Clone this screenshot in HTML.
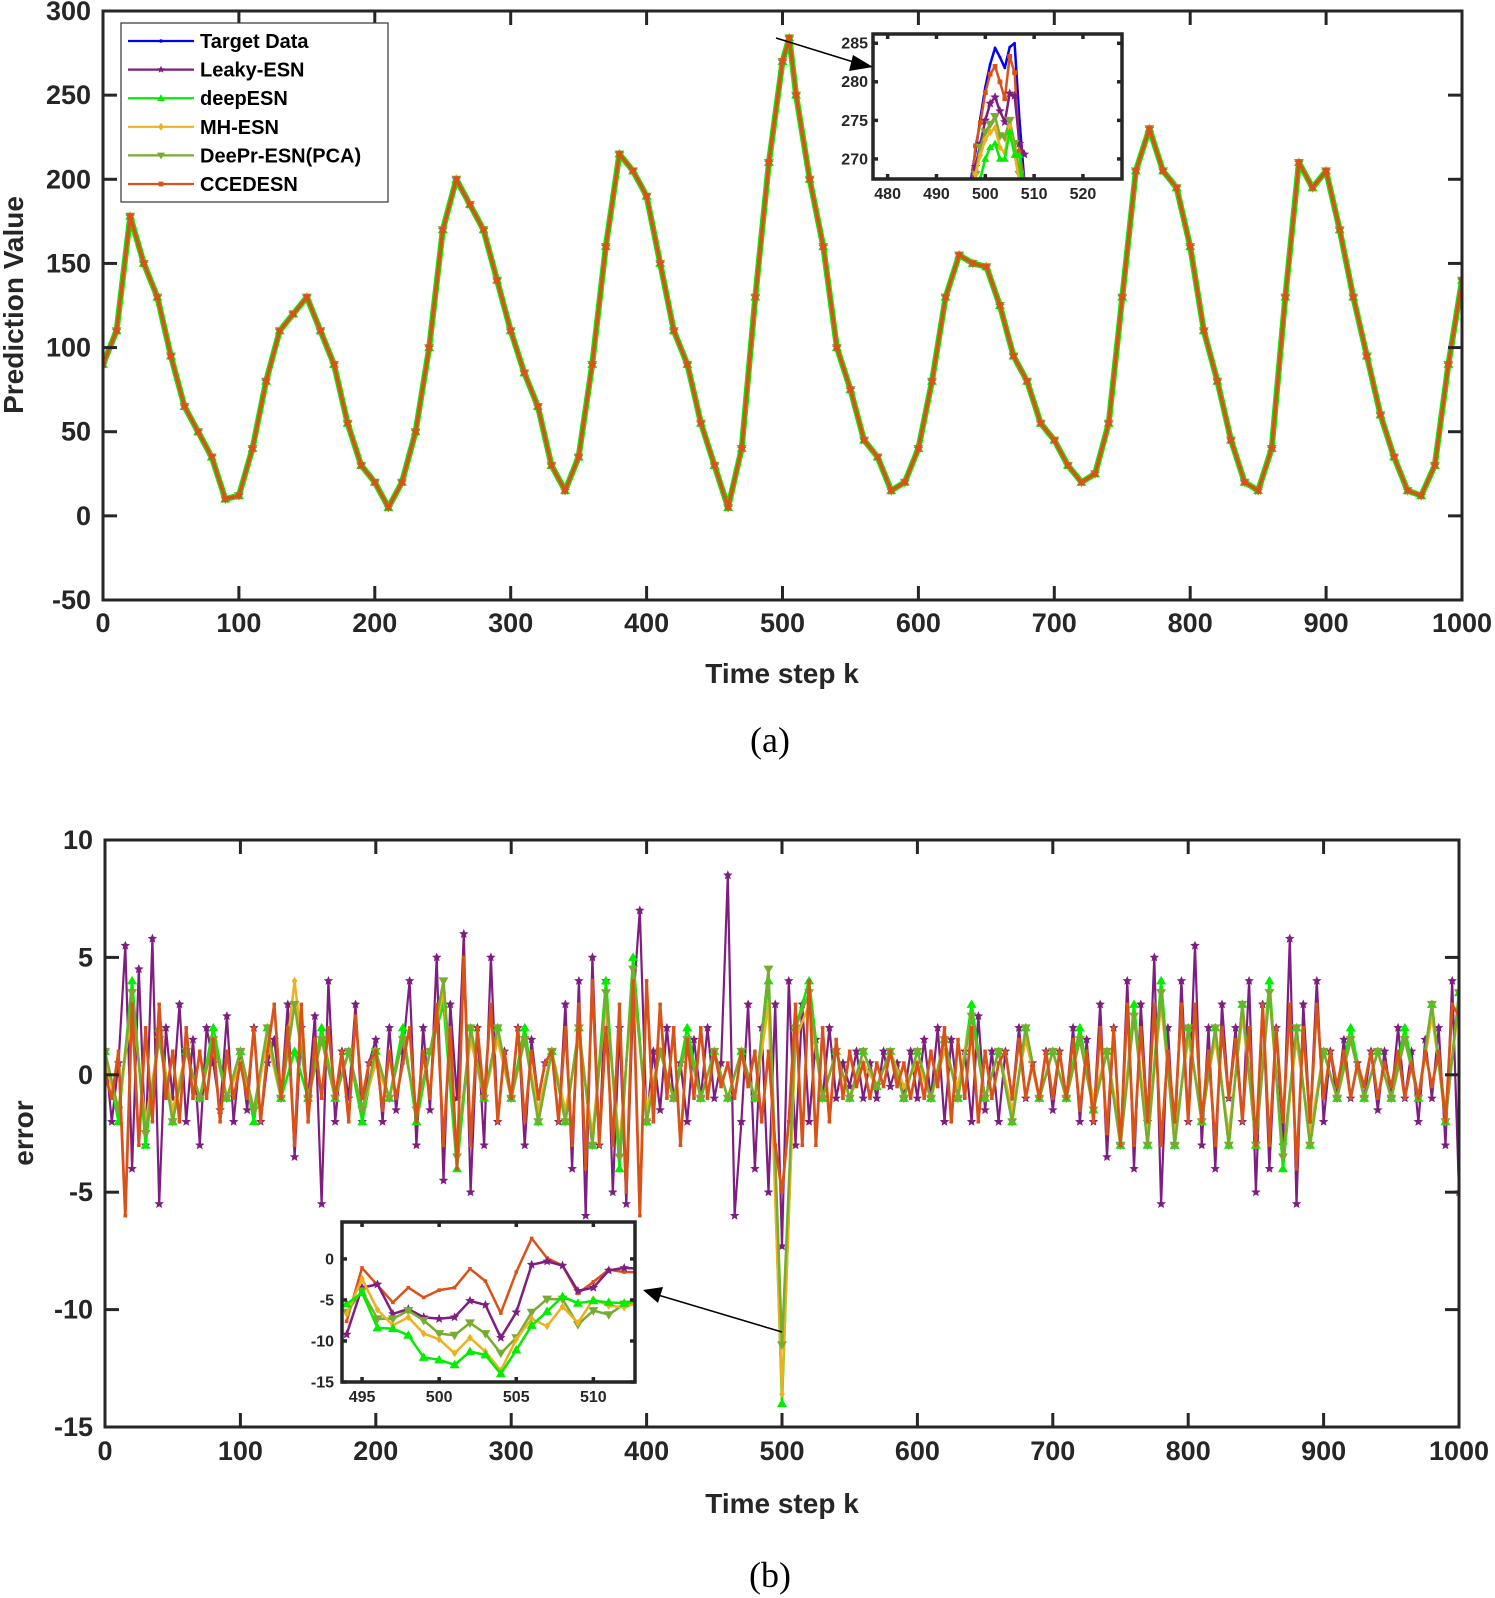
<!DOCTYPE html>
<html><head><meta charset="utf-8"><style>
body{margin:0;background:#fff;}
svg{display:block;font-family:"Liberation Sans",Arial,sans-serif;}
.tk{font-size:27px;font-weight:bold;fill:#262626;}
.lb{font-size:28px;font-weight:bold;fill:#262626;}
.it{font-size:16px;font-weight:bold;fill:#262626;}
.lg{font-size:20px;font-weight:bold;fill:#000;}
.cap{font-size:36px;font-family:"Liberation Serif",serif;fill:#000;}
</style></head><body>
<svg id="svg" width="1495" height="1598" viewBox="0 0 1495 1598" xmlns="http://www.w3.org/2000/svg">
<defs>
<clipPath id="c1"><rect x="103" y="11" width="1359" height="589"/></clipPath>
<clipPath id="c2"><rect x="105" y="840" width="1354" height="587"/></clipPath>
<clipPath id="c3"><rect x="873" y="34" width="249" height="145"/></clipPath>
<clipPath id="c4"><rect x="342" y="1222" width="293" height="160"/></clipPath>
</defs>
<g id="root"></g>
</svg>
<script>
// ---------- data ----------
const kTop = [0,10,20,30,40,50,60,70,80,90,100,110,120,130,140,150,160,170,180,190,200,210,220,230,240,250,260,270,280,290,300,310,320,330,340,350,360,370,380,390,400,410,420,430,440,450,460,470,480,490,500,505,510,520,530,540,550,560,570,580,590,600,610,620,630,640,650,660,670,680,690,700,710,720,730,740,750,760,770,780,790,800,810,820,830,840,850,860,870,880,890,900,910,920,930,940,950,960,970,980,990,1000];
const target = [90,110,178,150,130,95,65,50,35,10,12,40,80,110,120,130,110,90,55,30,20,5,20,50,100,170,200,185,170,140,110,85,65,30,15,35,90,160,215,205,190,150,110,90,55,30,5,40,130,210,270,284,250,200,160,100,75,45,35,15,20,40,80,130,155,150,148,125,95,80,55,45,30,20,25,55,130,205,230,205,195,160,110,80,45,20,15,40,130,210,195,205,170,130,95,60,35,15,12,30,90,140];
const yTopTicks = [300,250,200,150,100,50,0,-50];
const xTicks = [0,100,200,300,400,500,600,700,800,900,1000];

const kIn1 = [497,498,499,500,501,502,503,504,505,506,507,508];
const in1Target = [267,271,275.3,279.3,282.3,284.4,283.2,281.8,284.5,285,275,267];
const in1Ccedesn = [265,271.7,274.7,278.6,281,282,280,277.8,283.3,281.2,271,267];
const in1Leaky = [265,269,272,275,277.2,278,276.2,274.8,278.5,278.2,272,270.6];
const in1Pca = [264,268,271.5,273.5,274.5,275.5,273,272.8,275,272,268,264];
const in1Mh = [264,268,270.5,272.5,273.5,274,271.5,270.8,274.2,270.5,267,264];
const in1Deep = [262,264,267.5,270,271.5,272,270,270,273.5,270.5,270.5,264];
const in1XTicks = [480,490,500,510,520];
const in1YTicks = [285,280,275,270];

const kErr5 = [];
for (let k = 0; k <= 1000; k += 5) kErr5.push(k);
const kErr10 = [];
for (let k = 0; k <= 1000; k += 10) kErr10.push(k);
const errLeaky = [1,-2,0.5,5.5,-4,4.5,-3,5.8,-5.5,2,-1,3,-2,1.5,-3,2,0.5,-1.5,2.5,-2,
1,-1.5,2,-2,0.5,1.5,-1,3,-3.5,2,-1,2.5,-5.5,4,-2,1,-1,3,-2,0.5,
1.5,-2,2,-1.5,1,4,-3,2,-1.5,5,-4.5,3,-1,6,-5,2,-3,5,-2,1,
-1,2,-3,1.5,-1,0.5,1,-2,3,-4,4,-6,5,-3,4,-5,2,-5.5,3,7,
-2,1,-1.5,2,-1,0.5,-2,1.5,-1,2,-1,0.5,8.5,-6,-2,3,-4,2,-5,3,
-7.3,4,-3,3,-2,1.5,-1,2,-1,0.5,-0.5,1,-1,0.5,-1,1,-0.5,0.5,-1,1,
-1,1.5,-1,2,-2,1.5,-1,1,-2,2.5,-1.5,1,-2,1,-1,2,-1,0.5,-1,1,
-1.5,1,-1,2,-2,1.5,-2,3,-3.5,2,-3,4,-4,3,-2,5,-5.5,2,-3,4,
-2,5.5,-3,2,-4,3,-1,2,-2,4,-5,3,-4,2,-3,5.8,-5.5,3,-2,4,
-2,1,-1,1.5,-1,0.5,-1,1,-1.5,1,-1,2,-1,1,-2,1.5,-1,2,-3,4,-5];
const errCcedesn = [0,-1,1,-6,3,-3,2,-2,3,-1,1,-2,2,-1,1,-1,1.5,-2,1,-1,
0.5,-1,2,-2,1,3,-1,2,-3,3,-2,1.5,-1,2,-1,1,-2,2.5,-1,0.5,
1,-1.5,1,-1,0.5,2,-2,1,-1,3,-3,2,-4,5,-3,2,-1,3,-2,1,
-1,2,-2,1,-1,0.5,1,-2,2,-3,3,-4,4,-3,2,-3,3,-5,4,-6,
4,-2,3,-1,2,-3,1.5,-1,2,-1,1,-0.5,0.5,-1,1,-0.5,1,-2,1,-3,
-5,-2,3,-3,4,-3,2,-2,1.5,-1,1,-0.5,0.5,-1,0.5,-0.5,1,-0.5,0.5,-1,
0.5,-1,1,-0.5,2,-2,1.5,-1,2,-2,1,-1,0.5,1,-1,1.5,-1,0.5,-1,1,
-1,1,-1,1.5,-1.5,1,-2,2,-2.5,2,-3,3,-3,2,-2,3,-3,1,-2,3,
-2,3,-2,1,-3,2,-1,1.5,-2,2,-3,3,-3,2,-2,3,-4,2,-2,3,
-1,1,-0.5,1,-1,0.5,-0.5,1,-1,0.5,-0.5,1,-1,0.5,-1,1,-0.5,1,-2,3,2.5];
const errDeep = [1,-2,4,-3,2,-2,1,-1,2,-1,
1,-2,2,-1,1,-1,2,-1,1,-2,
1,-1,2,-2,1,3,-4,2,-1,2,
-1,2,-2,1,-2,2,-3,4,-4,5,
-2,1,-1,2,-1,1,-1,1,-1,4,
-14,2,4,-1,1,-1,1,-0.5,1,-1,
1,-1,1.5,-1,3,-1,1,-2,2,-1,
1,-1,2,-1.5,1,-3,3,-3,4,-3,
2,-2,2,-3,3,-3,4,-4,2,-3,
1,-1,2,-1,1,-1,2,-1,3,-2,3.5];
const errMh = [0.5,-1.5,3,-2,1.5,-1.5,1,-1,1.5,-1,
0.5,-1.5,1.5,-1,4,-1,1.5,-1,1,-1.5,
0.5,-1,1.5,-1.5,1,3.5,-3,1.5,-1,1.5,
-1,1.5,-1.5,1,-1.5,1.5,-2.5,3,-3,4,
-1.5,1,-1,1.5,-1,1,-1,1,-1,3,
-13.6,1.5,3,-1,1,-1,0.5,-0.5,1,-0.5,
0.5,-1,1,-0.5,2.5,-1,1,-1.5,1.5,-1,
1,-1,1.5,-1,1,-2.5,2.5,-2.5,3,-2.5,
1.5,-1.5,1.5,-2.5,2.5,-2.5,3.5,-3.5,1.5,-2.5,
1,-1,1.5,-1,1,-1,1.5,-1,2.5,-1.5,3];
const errPca = [1,-1.5,3.5,-2.5,1.5,-2,1,-1,1.5,-1,
1,-1.5,2,-1,3,-1,1.5,-1,1,-1.5,
1,-1,1.5,-1.5,1,4,-3.5,2,-1,2,
-1,1.5,-2,1,-2,2,-3,3.5,-3.5,4.5,
-2,1,-1,1.5,-1,1,-1,1,-1,4.5,
-11.5,2,3.5,-1,1,-1,1,-0.5,1,-1,
1,-1,1.5,-1,2.5,-1,1,-2,2,-1,
1,-1,1.5,-1.5,1,-3,2.5,-3,3.5,-3,
2,-2,2,-3,3,-3,3.5,-3.5,2,-3,
1,-1,1.5,-1,1,-1,1.5,-1,3,-2,3.5];
const yErrTicks = [10,5,0,-5,-10,-15];

const kIn2 = [494,495,496,497,498,499,500,501,502,503,504,505,506,507,508,509,510,511,512,513];
const in2Ccedesn = [-7.6,-1.1,-3.2,-5.3,-3.5,-4.7,-3.8,-3.5,-1.2,-2.7,-6.6,-1.6,2.5,0.1,-0.8,-4.2,-2.8,-1.3,-1.6,-1.6];
const in2Leaky = [-9.2,-3.5,-3.1,-6.7,-6.1,-7.1,-7.3,-7.1,-5.1,-5.6,-9.6,-6.5,-0.7,-0.3,-0.8,-3.9,-3.5,-1.4,-1.1,-1.2];
const in2Deep = [-5.5,-4.1,-8.4,-8.5,-9.3,-12,-12.3,-12.9,-11.3,-11.7,-14,-11.1,-8.1,-6.4,-4.6,-5.4,-5.1,-5.3,-5.4,-4.9];
const in2Mh = [-6.7,-2.4,-6.2,-8.1,-7.1,-9.1,-9.8,-11.5,-9.6,-11.3,-13.6,-9.8,-7.3,-8.2,-5.8,-7.8,-4.9,-5.7,-5.9,-5.3];
const in2Pca = [-6.5,-3.9,-7.3,-7.3,-6.3,-7.5,-9.1,-9.3,-7.8,-9.1,-11.5,-9.6,-6.5,-4.9,-4.9,-8,-6.3,-6.8,-5.5,-5.3];
const in2XTicks = [495,500,505,510];
const in2YTicks = [0,-5,-10,-15];

// ---------- helpers ----------
const NS = 'http://www.w3.org/2000/svg';
const root = document.getElementById('root');
function mk(tag, attrs, parent) {
  const e = document.createElementNS(NS, tag);
  for (const a in attrs) e.setAttribute(a, attrs[a]);
  (parent || root).appendChild(e);
  return e;
}
function lin(d0, d1, p0, p1) { return v => p0 + (v - d0) * (p1 - p0) / (d1 - d0); }
const COL = {target:'#0000ff', leaky:'#7e1e80', deep:'#00ee00', mh:'#edb120', pca:'#77ac30', cced:'#d95319'};
function marker(g, type, x, y, c, s) {
  let e;
  if (type === 'dot') e = mk('circle', {cx:x, cy:y, r:s*0.45, fill:c}, g);
  else if (type === 'star') {
    let p = [];
    for (let i = 0; i < 10; i++) { const r = i % 2 ? s*0.45 : s; const a = -Math.PI/2 + i*Math.PI/5; p.push((x + r*Math.cos(a)).toFixed(1) + ',' + (y + r*Math.sin(a)).toFixed(1)); }
    e = mk('polygon', {points:p.join(' '), fill:c}, g);
  } else if (type === 'tri') e = mk('polygon', {points:`${x},${y-s} ${x-s},${y+s*0.7} ${x+s},${y+s*0.7}`, fill:c}, g);
  else if (type === 'tridown') e = mk('polygon', {points:`${x},${y+s} ${x-s},${y-s*0.7} ${x+s},${y-s*0.7}`, fill:c}, g);
  else if (type === 'dia') e = mk('polygon', {points:`${x},${y-s} ${x-s*0.7},${y} ${x},${y+s} ${x+s*0.7},${y}`, fill:c}, g);
  else e = mk('rect', {x:x-s*0.6, y:y-s*0.6, width:s*1.2, height:s*1.2, fill:c}, g);
  
  
}
function series(name, ks, vals, sx, sy, c, mtype, clip, lw, ms) {
  const g = mk('g', {'clip-path':'url(#' + clip + ')'});
  
  
  const pts = ks.map((k, i) => sx(k).toFixed(1) + ',' + sy(vals[i]).toFixed(1)).join(' ');
  mk('polyline', {points:pts, fill:'none', stroke:c, 'stroke-width':lw, 'stroke-linejoin':'round'}, g);
  ks.forEach((k, i) => marker(g, mtype, sx(k), sy(vals[i]), c, ms));
}
function axes(name, x0, y0, x1, y1, sx, sy, xt, yt, tl, lw, cls, xoff, yoff) {
  const g = mk('g', {});
  
  
  mk('rect', {x:x0, y:y0, width:x1-x0, height:y1-y0, fill:'none', stroke:'#262626', 'stroke-width':lw}, g);
  xt.forEach(v => {
    const x = sx(v);
    mk('line', {x1:x, y1:y1, x2:x, y2:y1-tl, stroke:'#262626', 'stroke-width':lw}, g);
    mk('line', {x1:x, y1:y0, x2:x, y2:y0+tl, stroke:'#262626', 'stroke-width':lw}, g);
    const t = mk('text', {x:x, y:y1+xoff, 'text-anchor':'middle', class:cls}, g);
    t.textContent = v;
    
    
  });
  yt.forEach(v => {
    const y = sy(v);
    mk('line', {x1:x0, y1:y, x2:x0+tl, y2:y, stroke:'#262626', 'stroke-width':lw}, g);
    mk('line', {x1:x1, y1:y, x2:x1-tl, y2:y, stroke:'#262626', 'stroke-width':lw}, g);
    const t = mk('text', {x:x0-yoff, y:y+9*(cls==='tk'?1:0.6), 'text-anchor':'end', class:cls}, g);
    t.textContent = v;
    
    
  });
}
function txt(name, s, attrs) {
  const t = mk('text', attrs);
  t.textContent = s;
  
  
  return t;
}

// ---------- chart (a) ----------
const ax = lin(0, 1000, 103, 1462), ay = lin(-50, 300, 600, 11);
const topSeries = [['target-series', COL.target, 'dot'], ['leaky-esn-series', COL.leaky, 'star'], ['deepesn-series', COL.deep, 'tri'], ['mh-esn-series', COL.mh, 'dia'], ['deepr-esn-series', COL.pca, 'tridown'], ['ccedesn-series', COL.cced, 'sq']];
topSeries.forEach((s, i) => series(s[0], kTop, target, ax, ay, s[1], s[2], 'c1', i === 2 ? 6 : 3.5, 5));
axes('axes-a', 103, 11, 1462, 600, ax, ay, xTicks, yTopTicks, 14, 3, 'tk', 32, 12);
txt('x-axis-title-a', 'Time step k', {x:782, y:683, 'text-anchor':'middle', class:'lb'});
txt('y-axis-title-a', 'Prediction Value', {x:0, y:0, 'text-anchor':'middle', class:'lb', transform:'translate(23,305) rotate(-90)'});
txt('caption-a', '(a)', {x:770, y:752, 'text-anchor':'middle', class:'cap'});

// legend
const lg = mk('g', {});


mk('rect', {x:121, y:23, width:267, height:179, fill:'#fff', stroke:'#333', 'stroke-width':1.2}, lg);
const legNames = ['Target Data', 'Leaky-ESN', 'deepESN', 'MH-ESN', 'DeePr-ESN(PCA)', 'CCEDESN'];
topSeries.forEach((s, i) => {
  const y = 41 + i * 28.6;
  const e = mk('g', {}, lg);
  
  
  mk('line', {x1:128, y1:y, x2:194, y2:y, stroke:s[1], 'stroke-width':2.2}, e);
  marker(e, s[2], 161, y, s[1], 4);
  const t = mk('text', {x:200, y:y+7, class:'lg'}, e);
  t.textContent = legNames[i];
});

// inset (a)
const bx = lin(477, 528, 873, 1122), by = lin(267.4, 286.2, 179, 34);
mk('rect', {x:873, y:34, width:249, height:145, fill:'#fff'});
series('inset-a-target', kIn1, in1Target, bx, by, COL.target, 'dot', 'c3', 2.5, 3);
series('inset-a-ccedesn', kIn1, in1Ccedesn, bx, by, COL.cced, 'sq', 'c3', 2.5, 4);
series('inset-a-leaky', kIn1, in1Leaky, bx, by, COL.leaky, 'star', 'c3', 2.5, 5);
series('inset-a-deepr', kIn1, in1Pca, bx, by, COL.pca, 'tridown', 'c3', 2.5, 5);
series('inset-a-mh', kIn1, in1Mh, bx, by, COL.mh, 'dia', 'c3', 2.5, 4);
series('inset-a-deep', kIn1, in1Deep, bx, by, COL.deep, 'tri', 'c3', 2.5, 4);
axes('inset-a-axes', 873, 34, 1122, 179, bx, by, in1XTicks, in1YTicks, 5, 3.5, 'it', 20, 5);
mk('line', {x1:776, y1:38, x2:860, y2:64, stroke:'#000', 'stroke-width':1.5});
mk('polygon', {points:'873,67 853,55 849,71', fill:'#000'});

// ---------- chart (b) ----------
const ex = lin(0, 1000, 105, 1459), ey = lin(-15, 10, 1427, 840);
series('leaky-esn-error', kErr5, errLeaky, ex, ey, COL.leaky, 'star', 'c2', 2.2, 5);
series('deepesn-error', kErr10, errDeep, ex, ey, COL.deep, 'tri', 'c2', 2.5, 5);
series('mh-esn-error', kErr10, errMh, ex, ey, COL.mh, 'dia', 'c2', 2.5, 4);
series('deepr-esn-error', kErr10, errPca, ex, ey, COL.pca, 'tridown', 'c2', 2.5, 5);
series('ccedesn-error', kErr5, errCcedesn, ex, ey, COL.cced, 'sq', 'c2', 2.8, 3);
axes('axes-b', 105, 840, 1459, 1427, ex, ey, xTicks, yErrTicks, 14, 3, 'tk', 33, 12);
txt('x-axis-title-b', 'Time step k', {x:782, y:1513, 'text-anchor':'middle', class:'lb'});
txt('y-axis-title-b', 'error', {x:0, y:0, 'text-anchor':'middle', class:'lb', transform:'translate(33,1133) rotate(-90)'});
txt('caption-b', '(b)', {x:770, y:1587, 'text-anchor':'middle', class:'cap'});

// inset (b)
const cx = lin(493.7, 512.7, 342, 635), cy = lin(-15, 4.5, 1382, 1222);
mk('rect', {x:342, y:1222, width:293, height:160, fill:'#fff'});
series('inset-b-ccedesn', kIn2, in2Ccedesn, cx, cy, COL.cced, 'sq', 'c4', 2.5, 3);
series('inset-b-leaky', kIn2, in2Leaky, cx, cy, COL.leaky, 'star', 'c4', 2.5, 5);
series('inset-b-deepr', kIn2, in2Pca, cx, cy, COL.pca, 'tridown', 'c4', 2.5, 5);
series('inset-b-mh', kIn2, in2Mh, cx, cy, COL.mh, 'dia', 'c4', 2.5, 4);
series('inset-b-deep', kIn2, in2Deep, cx, cy, COL.deep, 'tri', 'c4', 2.5, 5);
axes('inset-b-axes', 342, 1222, 635, 1382, cx, cy, in2XTicks, in2YTicks, 5, 3.5, 'it', 20, 8);
mk('line', {x1:782, y1:1332, x2:658, y2:1295, stroke:'#000', 'stroke-width':1.5});
mk('polygon', {points:'643,1290 663,1287 658,1303', fill:'#000'});
</script>
</body></html>
